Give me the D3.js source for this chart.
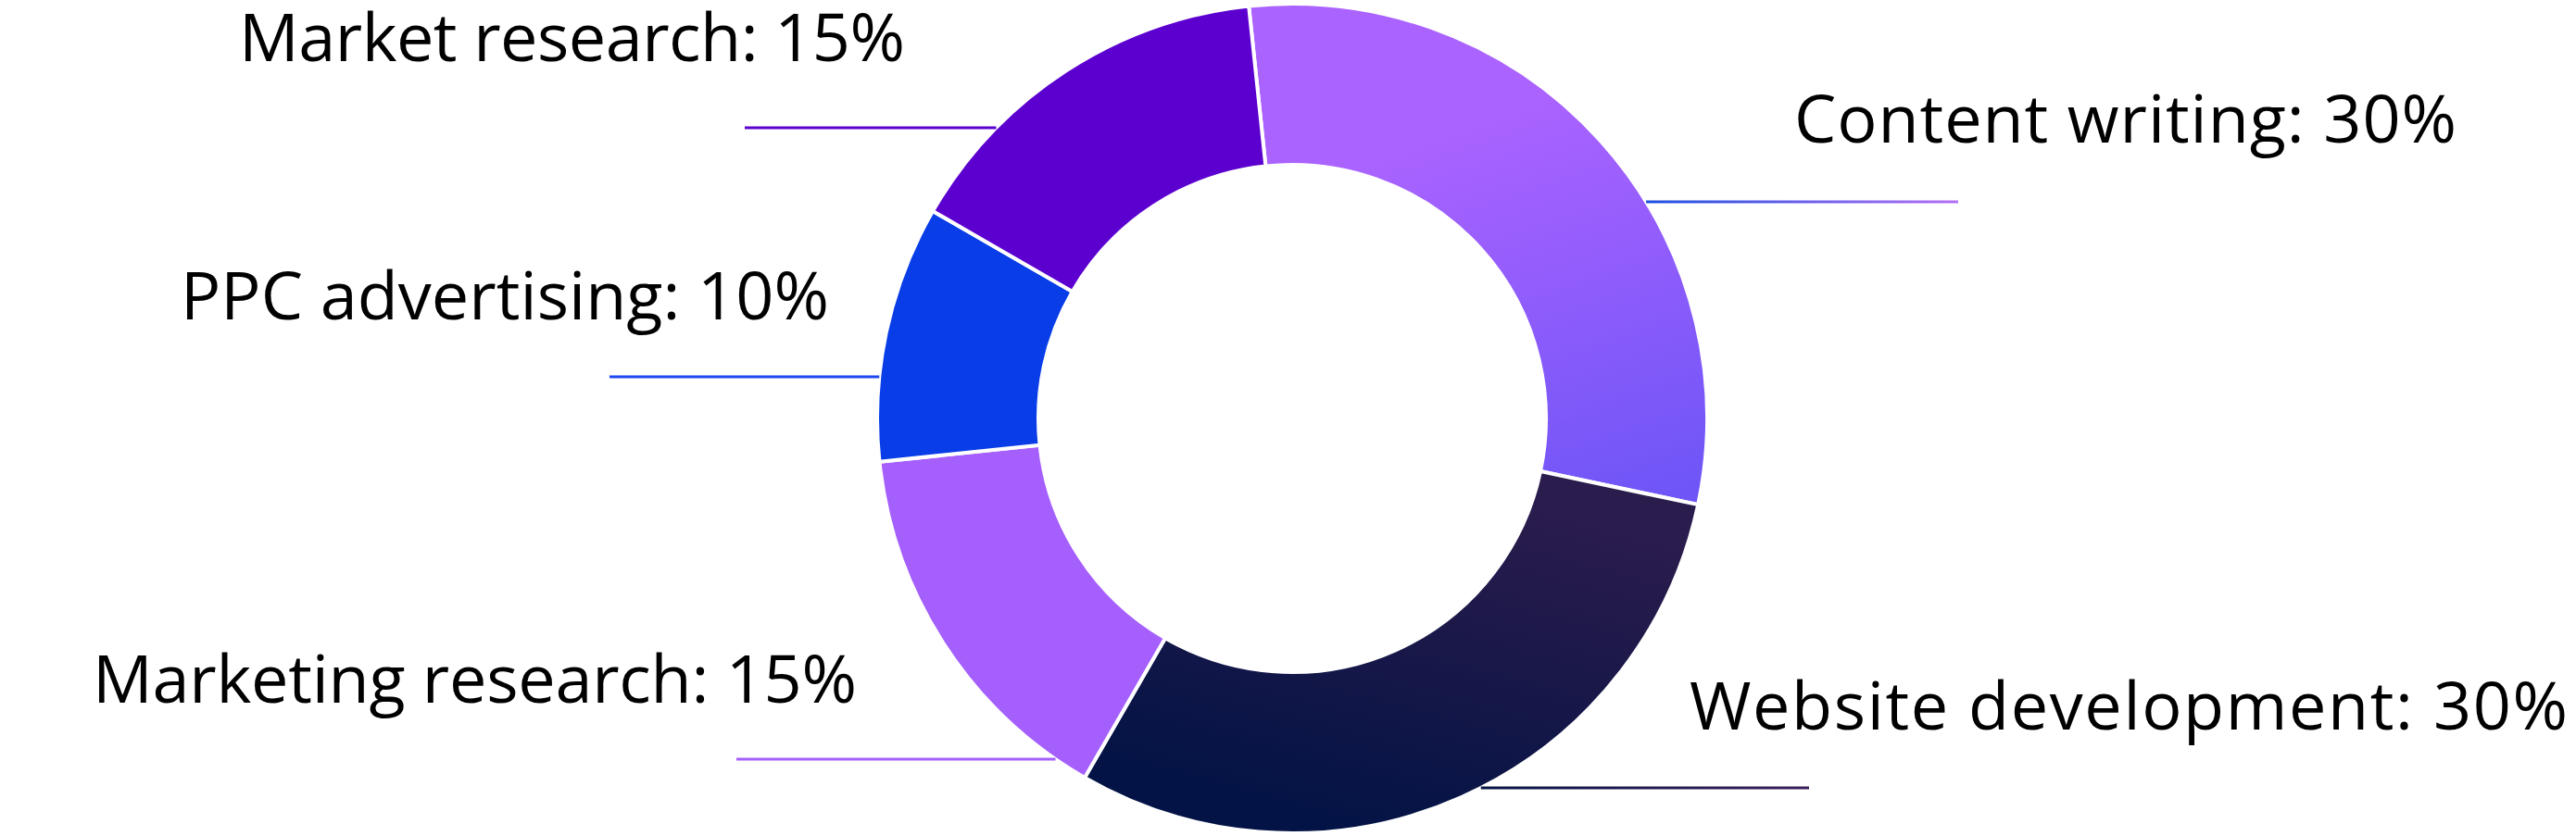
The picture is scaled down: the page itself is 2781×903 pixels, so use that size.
<!DOCTYPE html>
<html>
<head>
<meta charset="utf-8">
<script src="https://cdn.jsdelivr.net/npm/d3@7"></script>
<style>
  html, body { margin: 0; padding: 0; background: #fff; }
  svg { display: block; }
  .slice-label { font-family: "Open Sans", sans-serif; font-size: 72px; font-weight: 400; fill: #000; font-variant-ligatures: none; }
</style>
</head>
<body>
<div id="chart"></div>
<script>
// shares of the marketing budget, clockwise from the top
const categories = ["Content writing", "Website development", "Marketing research", "PPC advertising", "Market research"];
const shares = [30, 30, 15, 10, 15];

// fills: [from, to] for gradient slices
const sliceColors = [
    ["#ab63ff", "#6f55f7"],
    ["#2a1c4c", "#031345"],
    ["#a55ffd", "#a55ffd"],
    ["#093de8", "#093de8"],
    ["#5b00cf", "#5b00cf"]
];
const lineColors = [
    ["#1d4fe0", "#b46ff5"],
    ["#061446", "#3a1f5c"],
    ["#a560ff", "#a560ff"],
    ["#1e48f0", "#1e48f0"],
    ["#5b00cf", "#5b00cf"]
];

// label layout, per slice: side, leader line y, far end of line, text x, baseline, text width
const labelLayout = [
    { side: 1,  lineY: 218, lineEnd: 2114, textX: 1937, textY: 154, textW: 715 },
    { side: 1,  lineY: 851, lineEnd: 1953, textX: 1824, textY: 788, textW: 948 },
    { side: -1, lineY: 820, lineEnd: 795,  textX: 100,  textY: 759, textW: 825 },
    { side: -1, lineY: 407, lineEnd: 658,  textX: 195,  textY: 345, textW: 700 },
    { side: -1, lineY: 138, lineEnd: 804,  textX: 258,  textY: 66,  textW: 719 }
];

const config = {
    width: 2781,
    height: 903,
    cx: 1395,
    cy: 452,
    outerRadius: 448,
    innerRadius: 274,
    startAngle: -Math.PI / 30
};

const svg = d3.select('#chart').append('svg')
    .attr('width', config.width)
    .attr('height', config.height);

const defs = svg.append('defs');

const table = categories.map((c, i) => ({ name: c, value: shares[i], index: i }));

const pie = d3.pie()
    .sort(null)
    .value(d => d.value)
    .startAngle(config.startAngle)
    .endAngle(config.startAngle + 2 * Math.PI);

const arc = d3.arc()
    .innerRadius(config.innerRadius)
    .outerRadius(config.outerRadius);

const arcs = pie(table);

// slice gradients (bounding box of each slice)
const gradDir = [
    { x1: 0.55, y1: 0.05, x2: 0.85, y2: 1 },
    { x1: 0.9, y1: 0, x2: 0.45, y2: 1 },
    { x1: 0, y1: 0, x2: 0, y2: 1 },
    { x1: 0, y1: 0, x2: 0, y2: 1 },
    { x1: 0, y1: 0, x2: 0, y2: 1 }
];
sliceColors.forEach((c, i) => {
    const g = defs.append('linearGradient')
        .attr('id', 'slice-grad-' + i)
        .attr('x1', gradDir[i].x1).attr('y1', gradDir[i].y1)
        .attr('x2', gradDir[i].x2).attr('y2', gradDir[i].y2);
    g.append('stop').attr('offset', '15%').attr('stop-color', c[0]);
    g.append('stop').attr('offset', '100%').attr('stop-color', c[1]);
});
lineColors.forEach((c, i) => {
    const g = defs.append('linearGradient')
        .attr('id', 'line-grad-' + i)
        .attr('gradientUnits', 'userSpaceOnUse');
    g.append('stop').attr('offset', '0%').attr('stop-color', c[0]);
    g.append('stop').attr('offset', '100%').attr('stop-color', c[1]);
});

const donut = svg.append('g')
    .attr('transform', `translate(${config.cx},${config.cy})`);

donut.selectAll('.slice')
    .data(arcs)
    .join('path')
    .attr('class', 'slice')
    .attr('d', arc)
    .attr('fill', d => `url(#slice-grad-${d.data.index})`)
    .attr('stroke', '#fff')
    .attr('stroke-width', 4)
    .attr('stroke-linejoin', 'miter');

// leader lines start on the outer rim of the donut
const rimX = (d) => {
    const L = labelLayout[d.data.index];
    const dy = L.lineY - config.cy;
    return config.cx + L.side * Math.sqrt(config.outerRadius * config.outerRadius - dy * dy);
};

const labels = svg.append('g');

arcs.forEach(d => {
    const L = labelLayout[d.data.index];
    const x0 = rimX(d);
    const xa = Math.min(x0, L.lineEnd), xb = Math.max(x0, L.lineEnd);
    // gradient runs left to right
    defs.select('#line-grad-' + d.data.index)
        .attr('x1', xa).attr('y1', 0).attr('x2', xb).attr('y2', 0);
    labels.append('rect')
        .attr('x', xa)
        .attr('y', L.lineY - 1.5)
        .attr('width', xb - xa)
        .attr('height', 3)
        .attr('fill', `url(#line-grad-${d.data.index})`);
    labels.append('text')
        .attr('class', 'slice-label')
        .attr('x', L.textX)
        .attr('y', L.textY)
        .attr('textLength', L.textW)
        .attr('lengthAdjust', 'spacing')
        .text(`${d.data.name}: ${d.data.value}%`);
});
</script>
</body>
</html>
